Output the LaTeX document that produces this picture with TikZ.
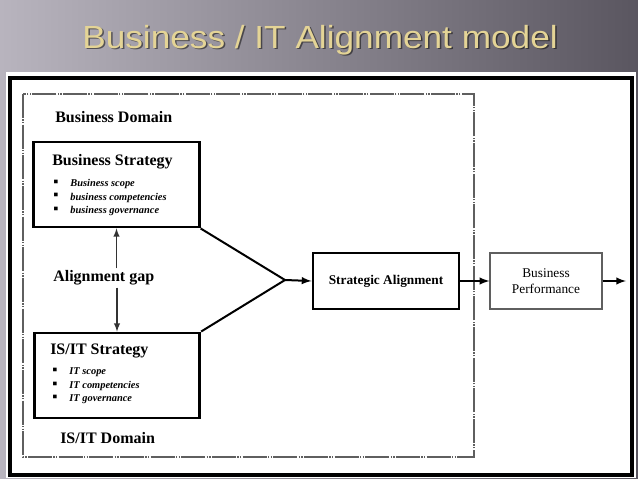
\documentclass[tikz,border=0pt]{standalone}
\usepackage{fontspec}
\setmainfont{Liberation Serif}
\newfontfamily\titlefont{Liberation Sans}
\usetikzlibrary{arrows}
\definecolor{SlideLight}{RGB}{184,180,190}
\definecolor{SlideMid}{RGB}{128,124,134}
\definecolor{SlideDark}{RGB}{90,86,96}
\definecolor{TitleGold}{RGB}{228,212,150}
\definecolor{FrameGray}{RGB}{95,95,95}
\newcommand{\sqbullet}{\raisebox{0.2pt}{\scalebox{1.4}{▪}}\hspace{9pt}}

\begin{document}
\begin{tikzpicture}[x = 0.75pt, y = -0.75pt, >= latex]
\tikzstyle{StrategyStyle}=[shape = rectangle,
                           draw,
                           line width = 2.2pt,
                           minimum width = 124pt,
                           minimum height = 63.75pt,
                           inner sep = 0pt]
\tikzstyle{HeadStyle}=[anchor = west, inner sep = 0pt,
                       font = \fontsize{12}{14}\selectfont\bfseries]
\tikzstyle{ListStyle}=[anchor = west, inner sep = 0pt, align = left,
                       font = \fontsize{7.8}{10.1}\selectfont\bfseries\itshape]
\tikzstyle{LinkStyle}=[line width = 1.5pt]
\tikzstyle{GapStyle}=[line width = 1.1pt, draw = black!80]
\useasboundingbox (0,0) rectangle (638,478);
% slide
\shade[left color = SlideLight, middle color = SlideMid, right color = SlideDark] (0,0) rectangle (638,478);
\node[text = black, opacity = 0.5, font = \titlefont\fontsize{24}{28}\selectfont] (shadow) at (321.5,41.5) {\scalebox{1.1}[1]{Business / IT Alignment model}};
\node[text = TitleGold, font = \titlefont\fontsize{24}{28}\selectfont] (title) at (320,40) {\scalebox{1.1}[1]{Business / IT Alignment model}};
\fill[white] (6,72) rectangle (636,478);
\draw[line width = 3pt] (10.3,78) rectangle (631.5,475);
% domain
\draw[draw = FrameGray, line width = 0.8pt, dash pattern = on 18pt off 1pt on 1pt off 1pt on 1pt off 1pt] (23,94) rectangle (474,457);
% boxes
\node[StrategyStyle] (bs) at (116.5,184.5) {};
\node[StrategyStyle] (it) at (117,375.5) {};
\node[StrategyStyle, minimum width = 109.5pt, minimum height = 42pt,
      font = \fontsize{10}{12}\selectfont\bfseries] (sa) at (386,281) {Strategic Alignment};
\node[shape = rectangle, draw = FrameGray, line width = 0.9pt, minimum width = 84pt,
      minimum height = 42pt, align = center, font = \fontsize{10}{12.5}\selectfont] (bp) at (546,281) {Business\\Performance};
% texts
\node[HeadStyle] (bdom) at (55,117) {Business Domain};
\node[HeadStyle] (bstitle) at (52,162) {Business Strategy};
\node[ListStyle] (bslist) at (53,197.5) {\sqbullet Business scope\\\sqbullet business competencies\\\sqbullet business governance};
\node[HeadStyle, inner ysep = 1.5pt] (gap) at (53,278) {Alignment gap};
\node[HeadStyle] (ittitle) at (50,351) {IS/IT Strategy};
\node[ListStyle] (itlist) at (52,386) {\sqbullet IT scope\\\sqbullet IT competencies\\\sqbullet IT governance};
\node[HeadStyle] (itdom) at (60,438) {IS/IT Domain};
% links
\coordinate (apex) at (285,280);
\coordinate (out) at (626,281);
\draw[LinkStyle] (bs.south east) -- (apex);
\draw[LinkStyle] (it.north east) -- (apex);
\draw[LinkStyle, ->] (apex) -- (sa.west);
\draw[LinkStyle, ->] (sa.east) -- (bp.west);
\draw[LinkStyle, ->] (bp.east) -- (out);
\draw[GapStyle, ->] (gap.north -| bs.south) -- (bs.south);
\draw[GapStyle, ->] (gap.south -| it.north) -- (it.north);
\end{tikzpicture}
\end{document}
